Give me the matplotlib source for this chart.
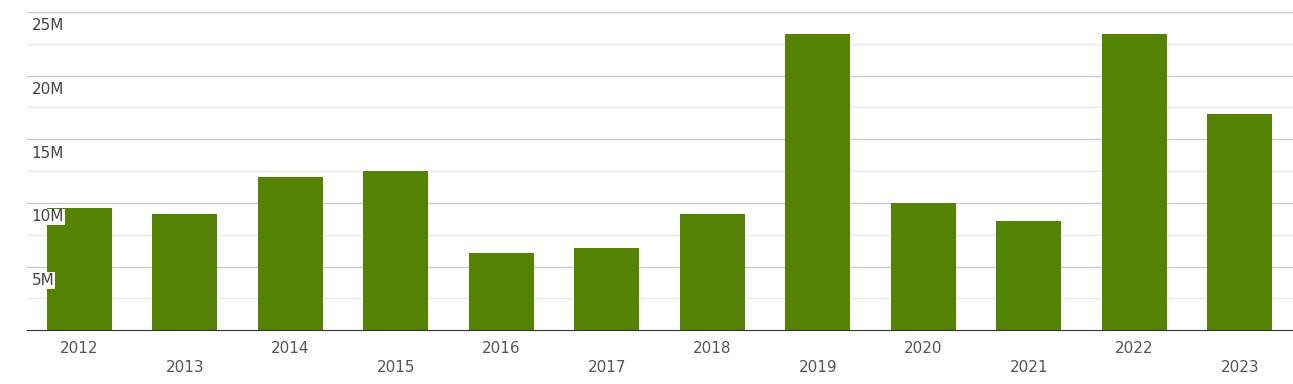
import numpy as np
import matplotlib.pyplot as plt

anos = ['2012', '2013', '2014', '2015', '2016', '2017', '2018', '2019', '2020', '2021', '2022', '2023']
valores = [9.6, 9.12, 12.03, 12.5, 6.05, 6.45, 9.12, 23.27, 9.98, 8.57, 23.27, 16.98]  # milhões
rotulos_y = ['5M', '10M', '15M', '20M', '25M']
marcas_y = [5, 10, 15, 20, 25]

fig = plt.figure(figsize=(12.93, 3.84), dpi=100)
ax = fig.add_axes([26.5 / 1293, 1 - 330.3 / 384, 1266 / 1293, 318.3 / 384])

x = np.arange(len(anos))
ax.bar(x, valores, width=0.62, color='#548203', zorder=2)

# grade principal e secundária
for v in marcas_y:
    ax.axhline(v, color='#cccccc', lw=1, zorder=1)
for v in np.arange(2.5, 25, 5):
    ax.axhline(v, color='#eaeaea', lw=1, zorder=1)

ax.set_xlim(-0.5, len(anos) - 0.5)
ax.set_ylim(0, 25)
ax.set_yticks([])
ax.set_xticks(x)
ax.set_xticklabels([])
ax.tick_params(axis='x', length=0)

for s in ['top', 'right', 'left']:
    ax.spines[s].set_visible(False)
ax.spines['bottom'].set_color('#333333')
ax.spines['bottom'].set_zorder(3)

# anos alternados em duas linhas
for i, a in enumerate(anos):
    y = -1.4 if i % 2 == 0 else -2.95
    ax.text(i, y, a, ha='center', va='center', fontsize=11, color='#555555', clip_on=False)

# rótulos do eixo y dentro do gráfico
for v, r in zip(marcas_y, rotulos_y):
    ax.text(-0.45, v - 0.5, r, ha='left', va='top', fontsize=11, color='#444444', zorder=4,
            bbox=dict(facecolor='white', edgecolor='none', pad=0.5))

plt.savefig('out.png', dpi=100)
